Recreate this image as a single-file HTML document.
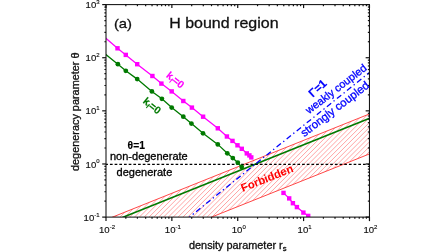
<!DOCTYPE html><html><head><meta charset="utf-8"><style>html,body{margin:0;padding:0;background:#fff;}svg{display:block;}text{font-family:"Liberation Sans",Arial,sans-serif;}</style></head><body>
<svg width="448" height="252" viewBox="0 0 448 252">
<defs><clipPath id="pc"><rect x="106.00" y="4.60" width="263.45" height="212.50"/></clipPath>
<clipPath id="bc"><polygon points="60.00,238.18 420.00,93.64 420.00,133.70 60.00,277.70"/></clipPath>
</defs>
<g clip-path="url(#pc)">
<g clip-path="url(#bc)" stroke="#ff9a9a" stroke-width="0.9">
<line x1="-134.93" y1="230.00" x2="95.07" y2="0.00"/>
<line x1="-130.09" y1="230.00" x2="99.91" y2="0.00"/>
<line x1="-125.25" y1="230.00" x2="104.75" y2="0.00"/>
<line x1="-120.41" y1="230.00" x2="109.59" y2="0.00"/>
<line x1="-115.57" y1="230.00" x2="114.43" y2="0.00"/>
<line x1="-110.73" y1="230.00" x2="119.27" y2="0.00"/>
<line x1="-105.89" y1="230.00" x2="124.11" y2="0.00"/>
<line x1="-101.05" y1="230.00" x2="128.95" y2="0.00"/>
<line x1="-96.21" y1="230.00" x2="133.79" y2="0.00"/>
<line x1="-91.37" y1="230.00" x2="138.63" y2="0.00"/>
<line x1="-86.53" y1="230.00" x2="143.47" y2="0.00"/>
<line x1="-81.69" y1="230.00" x2="148.31" y2="0.00"/>
<line x1="-76.85" y1="230.00" x2="153.15" y2="0.00"/>
<line x1="-72.01" y1="230.00" x2="157.99" y2="0.00"/>
<line x1="-67.17" y1="230.00" x2="162.83" y2="0.00"/>
<line x1="-62.33" y1="230.00" x2="167.67" y2="0.00"/>
<line x1="-57.49" y1="230.00" x2="172.51" y2="0.00"/>
<line x1="-52.65" y1="230.00" x2="177.35" y2="0.00"/>
<line x1="-47.81" y1="230.00" x2="182.19" y2="0.00"/>
<line x1="-42.97" y1="230.00" x2="187.03" y2="0.00"/>
<line x1="-38.13" y1="230.00" x2="191.87" y2="0.00"/>
<line x1="-33.29" y1="230.00" x2="196.71" y2="0.00"/>
<line x1="-28.45" y1="230.00" x2="201.55" y2="0.00"/>
<line x1="-23.61" y1="230.00" x2="206.39" y2="0.00"/>
<line x1="-18.77" y1="230.00" x2="211.23" y2="0.00"/>
<line x1="-13.93" y1="230.00" x2="216.07" y2="0.00"/>
<line x1="-9.09" y1="230.00" x2="220.91" y2="0.00"/>
<line x1="-4.25" y1="230.00" x2="225.75" y2="0.00"/>
<line x1="0.59" y1="230.00" x2="230.59" y2="0.00"/>
<line x1="5.43" y1="230.00" x2="235.43" y2="0.00"/>
<line x1="10.27" y1="230.00" x2="240.27" y2="0.00"/>
<line x1="15.11" y1="230.00" x2="245.11" y2="0.00"/>
<line x1="19.95" y1="230.00" x2="249.95" y2="0.00"/>
<line x1="24.79" y1="230.00" x2="254.79" y2="0.00"/>
<line x1="29.63" y1="230.00" x2="259.63" y2="0.00"/>
<line x1="34.47" y1="230.00" x2="264.47" y2="0.00"/>
<line x1="39.31" y1="230.00" x2="269.31" y2="0.00"/>
<line x1="44.15" y1="230.00" x2="274.15" y2="0.00"/>
<line x1="48.99" y1="230.00" x2="278.99" y2="0.00"/>
<line x1="53.83" y1="230.00" x2="283.83" y2="0.00"/>
<line x1="58.67" y1="230.00" x2="288.67" y2="0.00"/>
<line x1="63.51" y1="230.00" x2="293.51" y2="0.00"/>
<line x1="68.35" y1="230.00" x2="298.35" y2="0.00"/>
<line x1="73.19" y1="230.00" x2="303.19" y2="0.00"/>
<line x1="78.03" y1="230.00" x2="308.03" y2="0.00"/>
<line x1="82.87" y1="230.00" x2="312.87" y2="0.00"/>
<line x1="87.71" y1="230.00" x2="317.71" y2="0.00"/>
<line x1="92.55" y1="230.00" x2="322.55" y2="0.00"/>
<line x1="97.39" y1="230.00" x2="327.39" y2="0.00"/>
<line x1="102.23" y1="230.00" x2="332.23" y2="0.00"/>
<line x1="107.07" y1="230.00" x2="337.07" y2="0.00"/>
<line x1="111.91" y1="230.00" x2="341.91" y2="0.00"/>
<line x1="116.75" y1="230.00" x2="346.75" y2="0.00"/>
<line x1="121.59" y1="230.00" x2="351.59" y2="0.00"/>
<line x1="126.43" y1="230.00" x2="356.43" y2="0.00"/>
<line x1="131.27" y1="230.00" x2="361.27" y2="0.00"/>
<line x1="136.11" y1="230.00" x2="366.11" y2="0.00"/>
<line x1="140.95" y1="230.00" x2="370.95" y2="0.00"/>
<line x1="145.79" y1="230.00" x2="375.79" y2="0.00"/>
<line x1="150.63" y1="230.00" x2="380.63" y2="0.00"/>
<line x1="155.47" y1="230.00" x2="385.47" y2="0.00"/>
<line x1="160.31" y1="230.00" x2="390.31" y2="0.00"/>
<line x1="165.15" y1="230.00" x2="395.15" y2="0.00"/>
<line x1="169.99" y1="230.00" x2="399.99" y2="0.00"/>
<line x1="174.83" y1="230.00" x2="404.83" y2="0.00"/>
<line x1="179.67" y1="230.00" x2="409.67" y2="0.00"/>
<line x1="184.51" y1="230.00" x2="414.51" y2="0.00"/>
<line x1="189.35" y1="230.00" x2="419.35" y2="0.00"/>
<line x1="194.19" y1="230.00" x2="424.19" y2="0.00"/>
<line x1="199.03" y1="230.00" x2="429.03" y2="0.00"/>
<line x1="203.87" y1="230.00" x2="433.87" y2="0.00"/>
<line x1="208.71" y1="230.00" x2="438.71" y2="0.00"/>
<line x1="213.55" y1="230.00" x2="443.55" y2="0.00"/>
<line x1="218.39" y1="230.00" x2="448.39" y2="0.00"/>
<line x1="223.23" y1="230.00" x2="453.23" y2="0.00"/>
<line x1="228.07" y1="230.00" x2="458.07" y2="0.00"/>
<line x1="232.91" y1="230.00" x2="462.91" y2="0.00"/>
<line x1="237.75" y1="230.00" x2="467.75" y2="0.00"/>
<line x1="242.59" y1="230.00" x2="472.59" y2="0.00"/>
<line x1="247.43" y1="230.00" x2="477.43" y2="0.00"/>
<line x1="252.27" y1="230.00" x2="482.27" y2="0.00"/>
<line x1="257.11" y1="230.00" x2="487.11" y2="0.00"/>
<line x1="261.95" y1="230.00" x2="491.95" y2="0.00"/>
<line x1="266.79" y1="230.00" x2="496.79" y2="0.00"/>
<line x1="271.63" y1="230.00" x2="501.63" y2="0.00"/>
<line x1="276.47" y1="230.00" x2="506.47" y2="0.00"/>
<line x1="281.31" y1="230.00" x2="511.31" y2="0.00"/>
<line x1="286.15" y1="230.00" x2="516.15" y2="0.00"/>
<line x1="290.99" y1="230.00" x2="520.99" y2="0.00"/>
<line x1="295.83" y1="230.00" x2="525.83" y2="0.00"/>
<line x1="300.67" y1="230.00" x2="530.67" y2="0.00"/>
<line x1="305.51" y1="230.00" x2="535.51" y2="0.00"/>
<line x1="310.35" y1="230.00" x2="540.35" y2="0.00"/>
<line x1="315.19" y1="230.00" x2="545.19" y2="0.00"/>
<line x1="320.03" y1="230.00" x2="550.03" y2="0.00"/>
<line x1="324.87" y1="230.00" x2="554.87" y2="0.00"/>
<line x1="329.71" y1="230.00" x2="559.71" y2="0.00"/>
<line x1="334.55" y1="230.00" x2="564.55" y2="0.00"/>
<line x1="339.39" y1="230.00" x2="569.39" y2="0.00"/>
<line x1="344.23" y1="230.00" x2="574.23" y2="0.00"/>
<line x1="349.07" y1="230.00" x2="579.07" y2="0.00"/>
<line x1="353.91" y1="230.00" x2="583.91" y2="0.00"/>
<line x1="358.75" y1="230.00" x2="588.75" y2="0.00"/>
<line x1="363.59" y1="230.00" x2="593.59" y2="0.00"/>
</g>
<g fill="none" stroke="#ff4848" stroke-width="1">
<line x1="60.00" y1="238.18" x2="420.00" y2="93.64"/>
<line x1="60.00" y1="277.70" x2="420.00" y2="133.70"/>
</g>
<line x1="60.00" y1="242.55" x2="420.00" y2="98.01" stroke="#007a00" stroke-width="1.6"/>
<line x1="105.25" y1="164.3" x2="369.45" y2="164.3" stroke="#000" stroke-width="1.3" stroke-dasharray="2.7,1.986"/>
<line x1="189.5" y1="217" x2="372" y2="70.45" stroke="#0000ff" stroke-width="1.3" stroke-dasharray="5.5,3.05,1.3,3.05" stroke-dashoffset="4.4"/>
<polyline fill="none" stroke="#ff00ff" stroke-width="1.3" points="105.5,38.0 117.5,48.3 125.8,54.9 137.2,64.2 152.4,76.0 161.4,83.6 171.7,91.4 183.3,101.0 191.9,107.6 203.1,116.7 217.8,128.3 226.9,136.5 232.5,140.9 237.5,145.3 241.8,148.8 246.8,153.4 249.4,155.4 251.3,157.4"/>
<rect x="115.3" y="46.1" width="4.4" height="4.4" fill="#ff00ff"/>
<rect x="123.6" y="52.7" width="4.4" height="4.4" fill="#ff00ff"/>
<rect x="135.0" y="62.0" width="4.4" height="4.4" fill="#ff00ff"/>
<rect x="150.2" y="73.8" width="4.4" height="4.4" fill="#ff00ff"/>
<rect x="159.2" y="81.4" width="4.4" height="4.4" fill="#ff00ff"/>
<rect x="169.5" y="89.2" width="4.4" height="4.4" fill="#ff00ff"/>
<rect x="181.1" y="98.8" width="4.4" height="4.4" fill="#ff00ff"/>
<rect x="189.7" y="105.4" width="4.4" height="4.4" fill="#ff00ff"/>
<rect x="200.9" y="114.5" width="4.4" height="4.4" fill="#ff00ff"/>
<rect x="215.6" y="126.1" width="4.4" height="4.4" fill="#ff00ff"/>
<rect x="224.7" y="134.3" width="4.4" height="4.4" fill="#ff00ff"/>
<rect x="230.3" y="138.7" width="4.4" height="4.4" fill="#ff00ff"/>
<rect x="235.3" y="143.1" width="4.4" height="4.4" fill="#ff00ff"/>
<rect x="239.6" y="146.6" width="4.4" height="4.4" fill="#ff00ff"/>
<rect x="244.6" y="151.2" width="4.4" height="4.4" fill="#ff00ff"/>
<rect x="247.2" y="153.2" width="4.4" height="4.4" fill="#ff00ff"/>
<rect x="249.1" y="155.2" width="4.4" height="4.4" fill="#ff00ff"/>
<polyline fill="none" stroke="#ff00ff" stroke-width="1.3" points="283.5,192.9 289.2,198.4 292.9,203.2 296.9,207.1 303.4,212.6 308.2,215.9 311.5,219.0"/>
<rect x="281.3" y="190.7" width="4.4" height="4.4" fill="#ff00ff"/>
<rect x="287.0" y="196.2" width="4.4" height="4.4" fill="#ff00ff"/>
<rect x="290.7" y="201.0" width="4.4" height="4.4" fill="#ff00ff"/>
<rect x="294.7" y="204.9" width="4.4" height="4.4" fill="#ff00ff"/>
<rect x="301.2" y="210.4" width="4.4" height="4.4" fill="#ff00ff"/>
<rect x="306.0" y="213.7" width="4.4" height="4.4" fill="#ff00ff"/>
<polyline fill="none" stroke="#007a00" stroke-width="1.3" points="105.5,54.3 117.9,64.2 125.8,70.8 137.2,79.1 151.9,91.4 161.9,98.8 171.7,107.6 183.3,116.7 191.4,123.6 203.0,133.3 217.8,144.4 227.3,153.3 232.8,158.1 237.8,162.7 241.7,167.0"/>
<circle cx="117.9" cy="64.2" r="2.4" fill="#007a00"/>
<circle cx="125.8" cy="70.8" r="2.4" fill="#007a00"/>
<circle cx="137.2" cy="79.1" r="2.4" fill="#007a00"/>
<circle cx="151.9" cy="91.4" r="2.4" fill="#007a00"/>
<circle cx="161.9" cy="98.8" r="2.4" fill="#007a00"/>
<circle cx="171.7" cy="107.6" r="2.4" fill="#007a00"/>
<circle cx="183.3" cy="116.7" r="2.4" fill="#007a00"/>
<circle cx="191.4" cy="123.6" r="2.4" fill="#007a00"/>
<circle cx="203.0" cy="133.3" r="2.4" fill="#007a00"/>
<circle cx="217.8" cy="144.4" r="2.4" fill="#007a00"/>
<circle cx="227.3" cy="153.3" r="2.4" fill="#007a00"/>
<circle cx="232.8" cy="158.1" r="2.4" fill="#007a00"/>
<circle cx="237.8" cy="162.7" r="2.4" fill="#007a00"/>
<circle cx="241.7" cy="167.0" r="2.4" fill="#007a00"/>
</g>
<rect x="106.00" y="4.60" width="263.45" height="212.50" fill="none" stroke="#111" stroke-width="1.05"/>
<g stroke="#111" stroke-width="1.2"><line x1="106.00" y1="217.10" x2="106.00" y2="221.10"/><line x1="106.00" y1="4.60" x2="106.00" y2="8.10"/><line x1="125.83" y1="217.10" x2="125.83" y2="218.70"/><line x1="125.83" y1="4.60" x2="125.83" y2="6.20"/><line x1="137.42" y1="217.10" x2="137.42" y2="218.70"/><line x1="137.42" y1="4.60" x2="137.42" y2="6.20"/><line x1="145.65" y1="217.10" x2="145.65" y2="218.70"/><line x1="145.65" y1="4.60" x2="145.65" y2="6.20"/><line x1="152.04" y1="217.10" x2="152.04" y2="218.70"/><line x1="152.04" y1="4.60" x2="152.04" y2="6.20"/><line x1="157.25" y1="217.10" x2="157.25" y2="218.70"/><line x1="157.25" y1="4.60" x2="157.25" y2="6.20"/><line x1="161.66" y1="217.10" x2="161.66" y2="218.70"/><line x1="161.66" y1="4.60" x2="161.66" y2="6.20"/><line x1="165.48" y1="217.10" x2="165.48" y2="218.70"/><line x1="165.48" y1="4.60" x2="165.48" y2="6.20"/><line x1="168.85" y1="217.10" x2="168.85" y2="218.70"/><line x1="168.85" y1="4.60" x2="168.85" y2="6.20"/><line x1="171.86" y1="217.10" x2="171.86" y2="221.10"/><line x1="171.86" y1="4.60" x2="171.86" y2="8.10"/><line x1="191.69" y1="217.10" x2="191.69" y2="218.70"/><line x1="191.69" y1="4.60" x2="191.69" y2="6.20"/><line x1="203.29" y1="217.10" x2="203.29" y2="218.70"/><line x1="203.29" y1="4.60" x2="203.29" y2="6.20"/><line x1="211.52" y1="217.10" x2="211.52" y2="218.70"/><line x1="211.52" y1="4.60" x2="211.52" y2="6.20"/><line x1="217.90" y1="217.10" x2="217.90" y2="218.70"/><line x1="217.90" y1="4.60" x2="217.90" y2="6.20"/><line x1="223.11" y1="217.10" x2="223.11" y2="218.70"/><line x1="223.11" y1="4.60" x2="223.11" y2="6.20"/><line x1="227.52" y1="217.10" x2="227.52" y2="218.70"/><line x1="227.52" y1="4.60" x2="227.52" y2="6.20"/><line x1="231.34" y1="217.10" x2="231.34" y2="218.70"/><line x1="231.34" y1="4.60" x2="231.34" y2="6.20"/><line x1="234.71" y1="217.10" x2="234.71" y2="218.70"/><line x1="234.71" y1="4.60" x2="234.71" y2="6.20"/><line x1="237.72" y1="217.10" x2="237.72" y2="221.10"/><line x1="237.72" y1="4.60" x2="237.72" y2="8.10"/><line x1="257.55" y1="217.10" x2="257.55" y2="218.70"/><line x1="257.55" y1="4.60" x2="257.55" y2="6.20"/><line x1="269.15" y1="217.10" x2="269.15" y2="218.70"/><line x1="269.15" y1="4.60" x2="269.15" y2="6.20"/><line x1="277.38" y1="217.10" x2="277.38" y2="218.70"/><line x1="277.38" y1="4.60" x2="277.38" y2="6.20"/><line x1="283.76" y1="217.10" x2="283.76" y2="218.70"/><line x1="283.76" y1="4.60" x2="283.76" y2="6.20"/><line x1="288.98" y1="217.10" x2="288.98" y2="218.70"/><line x1="288.98" y1="4.60" x2="288.98" y2="6.20"/><line x1="293.39" y1="217.10" x2="293.39" y2="218.70"/><line x1="293.39" y1="4.60" x2="293.39" y2="6.20"/><line x1="297.20" y1="217.10" x2="297.20" y2="218.70"/><line x1="297.20" y1="4.60" x2="297.20" y2="6.20"/><line x1="300.57" y1="217.10" x2="300.57" y2="218.70"/><line x1="300.57" y1="4.60" x2="300.57" y2="6.20"/><line x1="303.59" y1="217.10" x2="303.59" y2="221.10"/><line x1="303.59" y1="4.60" x2="303.59" y2="8.10"/><line x1="323.41" y1="217.10" x2="323.41" y2="218.70"/><line x1="323.41" y1="4.60" x2="323.41" y2="6.20"/><line x1="335.01" y1="217.10" x2="335.01" y2="218.70"/><line x1="335.01" y1="4.60" x2="335.01" y2="6.20"/><line x1="343.24" y1="217.10" x2="343.24" y2="218.70"/><line x1="343.24" y1="4.60" x2="343.24" y2="6.20"/><line x1="349.62" y1="217.10" x2="349.62" y2="218.70"/><line x1="349.62" y1="4.60" x2="349.62" y2="6.20"/><line x1="354.84" y1="217.10" x2="354.84" y2="218.70"/><line x1="354.84" y1="4.60" x2="354.84" y2="6.20"/><line x1="359.25" y1="217.10" x2="359.25" y2="218.70"/><line x1="359.25" y1="4.60" x2="359.25" y2="6.20"/><line x1="363.07" y1="217.10" x2="363.07" y2="218.70"/><line x1="363.07" y1="4.60" x2="363.07" y2="6.20"/><line x1="366.44" y1="217.10" x2="366.44" y2="218.70"/><line x1="366.44" y1="4.60" x2="366.44" y2="6.20"/><line x1="369.45" y1="217.10" x2="369.45" y2="221.10"/><line x1="369.45" y1="4.60" x2="369.45" y2="8.10"/><line x1="106.00" y1="217.10" x2="102.20" y2="217.10"/><line x1="369.45" y1="217.10" x2="365.65" y2="217.10"/><line x1="106.00" y1="201.11" x2="104.40" y2="201.11"/><line x1="369.45" y1="201.11" x2="367.85" y2="201.11"/><line x1="106.00" y1="191.75" x2="104.40" y2="191.75"/><line x1="369.45" y1="191.75" x2="367.85" y2="191.75"/><line x1="106.00" y1="185.12" x2="104.40" y2="185.12"/><line x1="369.45" y1="185.12" x2="367.85" y2="185.12"/><line x1="106.00" y1="179.97" x2="104.40" y2="179.97"/><line x1="369.45" y1="179.97" x2="367.85" y2="179.97"/><line x1="106.00" y1="175.76" x2="104.40" y2="175.76"/><line x1="369.45" y1="175.76" x2="367.85" y2="175.76"/><line x1="106.00" y1="172.20" x2="104.40" y2="172.20"/><line x1="369.45" y1="172.20" x2="367.85" y2="172.20"/><line x1="106.00" y1="169.12" x2="104.40" y2="169.12"/><line x1="369.45" y1="169.12" x2="367.85" y2="169.12"/><line x1="106.00" y1="166.41" x2="104.40" y2="166.41"/><line x1="369.45" y1="166.41" x2="367.85" y2="166.41"/><line x1="106.00" y1="163.97" x2="102.20" y2="163.97"/><line x1="369.45" y1="163.97" x2="365.65" y2="163.97"/><line x1="106.00" y1="147.98" x2="104.40" y2="147.98"/><line x1="369.45" y1="147.98" x2="367.85" y2="147.98"/><line x1="106.00" y1="138.63" x2="104.40" y2="138.63"/><line x1="369.45" y1="138.63" x2="367.85" y2="138.63"/><line x1="106.00" y1="131.99" x2="104.40" y2="131.99"/><line x1="369.45" y1="131.99" x2="367.85" y2="131.99"/><line x1="106.00" y1="126.84" x2="104.40" y2="126.84"/><line x1="369.45" y1="126.84" x2="367.85" y2="126.84"/><line x1="106.00" y1="122.64" x2="104.40" y2="122.64"/><line x1="369.45" y1="122.64" x2="367.85" y2="122.64"/><line x1="106.00" y1="119.08" x2="104.40" y2="119.08"/><line x1="369.45" y1="119.08" x2="367.85" y2="119.08"/><line x1="106.00" y1="116.00" x2="104.40" y2="116.00"/><line x1="369.45" y1="116.00" x2="367.85" y2="116.00"/><line x1="106.00" y1="113.28" x2="104.40" y2="113.28"/><line x1="369.45" y1="113.28" x2="367.85" y2="113.28"/><line x1="106.00" y1="110.85" x2="102.20" y2="110.85"/><line x1="369.45" y1="110.85" x2="365.65" y2="110.85"/><line x1="106.00" y1="94.86" x2="104.40" y2="94.86"/><line x1="369.45" y1="94.86" x2="367.85" y2="94.86"/><line x1="106.00" y1="85.50" x2="104.40" y2="85.50"/><line x1="369.45" y1="85.50" x2="367.85" y2="85.50"/><line x1="106.00" y1="78.87" x2="104.40" y2="78.87"/><line x1="369.45" y1="78.87" x2="367.85" y2="78.87"/><line x1="106.00" y1="73.72" x2="104.40" y2="73.72"/><line x1="369.45" y1="73.72" x2="367.85" y2="73.72"/><line x1="106.00" y1="69.51" x2="104.40" y2="69.51"/><line x1="369.45" y1="69.51" x2="367.85" y2="69.51"/><line x1="106.00" y1="65.95" x2="104.40" y2="65.95"/><line x1="369.45" y1="65.95" x2="367.85" y2="65.95"/><line x1="106.00" y1="62.87" x2="104.40" y2="62.87"/><line x1="369.45" y1="62.87" x2="367.85" y2="62.87"/><line x1="106.00" y1="60.16" x2="104.40" y2="60.16"/><line x1="369.45" y1="60.16" x2="367.85" y2="60.16"/><line x1="106.00" y1="57.73" x2="102.20" y2="57.73"/><line x1="369.45" y1="57.73" x2="365.65" y2="57.73"/><line x1="106.00" y1="41.73" x2="104.40" y2="41.73"/><line x1="369.45" y1="41.73" x2="367.85" y2="41.73"/><line x1="106.00" y1="32.38" x2="104.40" y2="32.38"/><line x1="369.45" y1="32.38" x2="367.85" y2="32.38"/><line x1="106.00" y1="25.74" x2="104.40" y2="25.74"/><line x1="369.45" y1="25.74" x2="367.85" y2="25.74"/><line x1="106.00" y1="20.59" x2="104.40" y2="20.59"/><line x1="369.45" y1="20.59" x2="367.85" y2="20.59"/><line x1="106.00" y1="16.39" x2="104.40" y2="16.39"/><line x1="369.45" y1="16.39" x2="367.85" y2="16.39"/><line x1="106.00" y1="12.83" x2="104.40" y2="12.83"/><line x1="369.45" y1="12.83" x2="367.85" y2="12.83"/><line x1="106.00" y1="9.75" x2="104.40" y2="9.75"/><line x1="369.45" y1="9.75" x2="367.85" y2="9.75"/><line x1="106.00" y1="7.03" x2="104.40" y2="7.03"/><line x1="369.45" y1="7.03" x2="367.85" y2="7.03"/><line x1="106.00" y1="4.60" x2="102.20" y2="4.60"/><line x1="369.45" y1="4.60" x2="365.65" y2="4.60"/></g>
<g font-size="9.6" fill="#111" stroke="#111" stroke-width="0.15">
<text x="107.00" y="233.3" text-anchor="middle">10<tspan font-size="6" dy="-4.1">-2</tspan></text>
<text x="172.86" y="233.3" text-anchor="middle">10<tspan font-size="6" dy="-4.1">-1</tspan></text>
<text x="238.72" y="233.3" text-anchor="middle">10<tspan font-size="6" dy="-4.1">0</tspan></text>
<text x="304.59" y="233.3" text-anchor="middle">10<tspan font-size="6" dy="-4.1">1</tspan></text>
<text x="370.45" y="233.3" text-anchor="middle">10<tspan font-size="6" dy="-4.1">2</tspan></text>
<text x="99.6" y="220.70" text-anchor="end">10<tspan font-size="6" dy="-4.1">-1</tspan></text>
<text x="99.6" y="167.57" text-anchor="end">10<tspan font-size="6" dy="-4.1">0</tspan></text>
<text x="99.6" y="114.45" text-anchor="end">10<tspan font-size="6" dy="-4.1">1</tspan></text>
<text x="99.6" y="61.33" text-anchor="end">10<tspan font-size="6" dy="-4.1">2</tspan></text>
<text x="99.6" y="8.20" text-anchor="end">10<tspan font-size="6" dy="-4.1">3</tspan></text>
</g>
<text transform="translate(189,248.5) scale(1.09,1)" font-size="10" fill="#111" stroke="#111" stroke-width="0.3">density parameter r<tspan font-size="7" dy="2.5">s</tspan></text>
<text transform="translate(78.6,171) rotate(-90) scale(1.09,1)" font-size="10" fill="#111" stroke="#111" stroke-width="0.3">degeneracy parameter θ</text>
<text transform="translate(113.9,28.4) scale(1.09,1)" font-size="13.6" fill="#111" stroke="#111" stroke-width="0.3">(a)</text>
<text transform="translate(169.2,28.2) scale(1.066,1)" font-size="15" fill="#111" stroke="#111" stroke-width="0.3">H bound region</text>
<text x="127.6" y="149" font-size="10.3" font-weight="bold" fill="#000" stroke="#000" stroke-width="0.15">θ=1</text>
<text x="110" y="160.1" font-size="11" fill="#000" stroke="#000" stroke-width="0.3">non-degenerate</text>
<text x="116.6" y="175.6" font-size="11" fill="#000" stroke="#000" stroke-width="0.3">degenerate</text>
<text transform="translate(242.8,192) rotate(-21.9)" font-size="11.3" font-weight="bold" fill="#ff0000">Forbidden</text>
<text transform="translate(165.5,76.5) rotate(39) " font-size="10.3" font-weight="bold" fill="#ff00ff" stroke="#ff00ff" stroke-width="0.15">k<tspan font-size="6.5" dy="2">f</tspan><tspan dy="-2">=0</tspan></text>
<text transform="translate(142.2,102.2) rotate(39)" font-size="10.3" font-weight="bold" fill="#007a00" stroke="#007a00" stroke-width="0.15">k<tspan font-size="6.5" dy="2">f</tspan><tspan dy="-2">=0</tspan></text>
<text transform="translate(312.8,97.7) rotate(-42)" font-size="11.4" font-weight="bold" fill="#0000ff" stroke="#0000ff" stroke-width="0.15">Γ=1</text>
<text transform="translate(309,114.3) rotate(-37.5)" font-size="10.8" fill="#0000ff" stroke="#0000ff" stroke-width="0.3">weakly coupled</text>
<text transform="translate(304.2,137.3) rotate(-37.5)" font-size="11.4" fill="#0000ff" stroke="#0000ff" stroke-width="0.3">strongly coupled</text>
</svg></body></html>
